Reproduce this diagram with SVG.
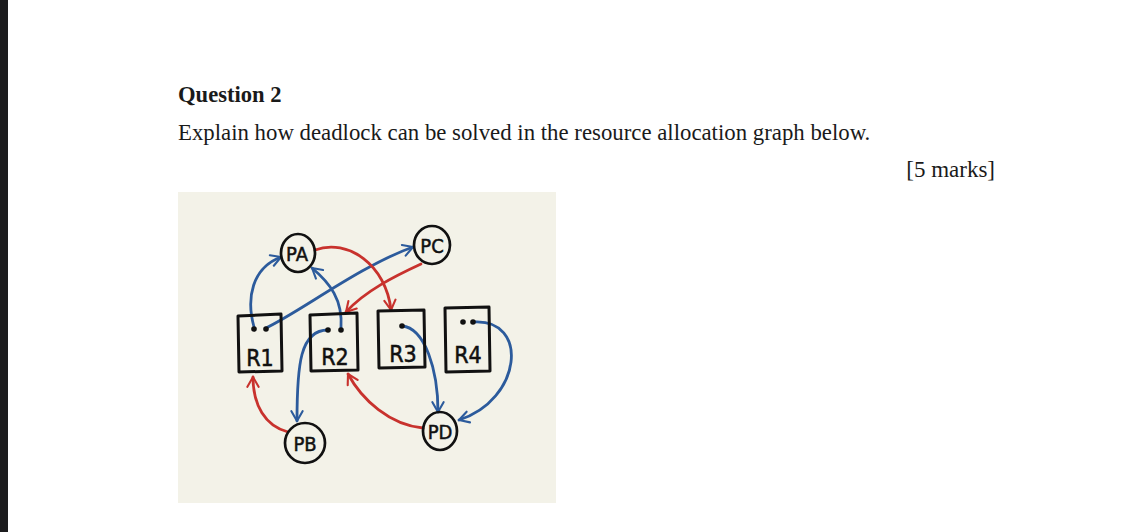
<svg xmlns="http://www.w3.org/2000/svg" width="1145" height="532" viewBox="0 0 1145 532">
<defs>
<style>
.q{font-family:"Liberation Serif","Times New Roman",serif;fill:#1a1a1a}
.box{fill:none;stroke:#111;stroke-width:3;stroke-linejoin:round}
.proc{fill:none;stroke:#111;stroke-width:2.7}
.lbl{font-family:"DejaVu Sans Condensed","DejaVu Sans",sans-serif;font-stretch:condensed;fill:#111;text-anchor:middle;stroke:#111;stroke-width:0.5}
.dot{fill:#111}
.b{fill:none;stroke:#2c5b9c;stroke-width:2.8;stroke-linecap:round;marker-end:url(#ab)}
.r{fill:none;stroke:#c8322d;stroke-width:2.8;stroke-linecap:round;marker-end:url(#ar)}
</style>
<marker id="ab" viewBox="0 0 10 10" refX="8" refY="5" markerWidth="5" markerHeight="5" orient="auto" markerUnits="strokeWidth">
<path d="M1,1 L8,5 L1,9" fill="none" stroke="#2c5b9c" stroke-width="1.5" stroke-linecap="round" stroke-linejoin="round"/>
</marker>
<marker id="ar" viewBox="0 0 10 10" refX="8" refY="5" markerWidth="5" markerHeight="5" orient="auto" markerUnits="strokeWidth">
<path d="M1,1 L8,5 L1,9" fill="none" stroke="#c8322d" stroke-width="1.5" stroke-linecap="round" stroke-linejoin="round"/>
</marker>
</defs>
<rect x="0" y="0" width="1145" height="532" fill="#ffffff"/>
<rect x="0" y="0" width="8" height="532" fill="#1c1c1e"/>
<g id="header">
<text class="q" x="178" y="102" font-size="22.6" font-weight="bold">Question 2</text>
<text class="q" x="178" y="140" font-size="22.8">Explain how deadlock can be solved in the resource allocation graph below.</text>
<text class="q" x="995" y="177" font-size="23" text-anchor="end">[5 marks]</text>
</g>
<rect id="figure" x="178" y="192" width="378" height="311" fill="#f3f2e8"/>
<g id="connectors">
<path class="b" d="M254,327 C246,298 252,268 281,257"/>
<path class="b" d="M266,328 C300,312 360,266 413,247"/>
<path class="b" d="M341,328 C343,300 330,283 312,268"/>
<path class="r" d="M315,250 C348,238 386,265 391,310"/>
<path class="r" d="M421,264 C395,276 365,291 346,312"/>
<path class="b" d="M328,330 C300,330 297,365 297,421"/>
<path class="r" d="M288,432 C265,426 253,405 253,377"/>
<path class="b" d="M402,326 C425,328 438,370 438,412"/>
<path class="b" d="M473,322 C530,318 522,400 459,420"/>
<path class="r" d="M423,428 C390,425 362,400 348,374"/>
</g>
<g id="R1">
<path class="box" d="M238,316 L281,314 L282,371 L239,372 Z"/>
<circle class="dot" cx="254" cy="329" r="2.8"/>
<circle class="dot" cx="266" cy="329" r="2.8"/>
<text class="lbl" x="260" y="366" font-size="23">R1</text>
</g>
<g id="R2">
<path class="box" d="M310,315 L357,313 L358,370 L311,371 Z"/>
<circle class="dot" cx="328" cy="330" r="2.8"/>
<circle class="dot" cx="341" cy="330" r="2.8"/>
<text class="lbl" x="335" y="365" font-size="23">R2</text>
</g>
<g id="R3">
<path class="box" d="M378,311 L424,310 L425,367 L379,368 Z"/>
<circle class="dot" cx="402" cy="326" r="2.8"/>
<text class="lbl" x="403" y="362" font-size="23">R3</text>
</g>
<g id="R4">
<path class="box" d="M445,308 L489,307 L490,371 L446,372 Z"/>
<circle class="dot" cx="463" cy="322" r="2.8"/>
<circle class="dot" cx="473" cy="322" r="2.8"/>
<text class="lbl" x="468" y="363" font-size="23">R4</text>
</g>
<g id="PA">
<ellipse class="proc" cx="298" cy="253" rx="17" ry="19"/>
<text class="lbl" x="297" y="261" font-size="20">PA</text>
</g>
<g id="PC">
<ellipse class="proc" cx="432" cy="245" rx="18" ry="19"/>
<text class="lbl" x="432" y="253" font-size="20">PC</text>
</g>
<g id="PB">
<ellipse class="proc" cx="305" cy="443" rx="20" ry="20"/>
<text class="lbl" x="305" y="451" font-size="20">PB</text>
</g>
<g id="PD">
<ellipse class="proc" cx="440" cy="431" rx="17" ry="19"/>
<text class="lbl" x="440" y="439" font-size="20">PD</text>
</g>
</svg>
